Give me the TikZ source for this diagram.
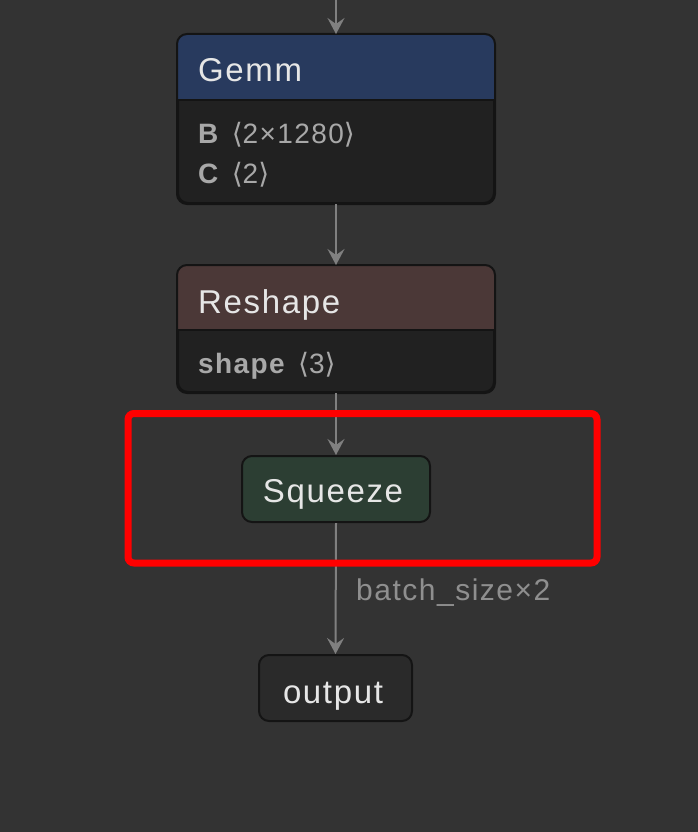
\documentclass[tikz,border=0pt]{standalone}
\usepackage{fontspec}
\setmainfont{Liberation Sans}[LetterSpace=5]
\newfontfamily\djfont{DejaVu Sans}[LetterSpace=5]
\usetikzlibrary{arrows.meta}
\definecolor{bgc}{HTML}{333333}
\definecolor{bodyc}{HTML}{212121}
\definecolor{gemmc}{HTML}{283A5E}
\definecolor{reshc}{HTML}{4B3837}
\definecolor{sqzc}{HTML}{2C3E33}
\definecolor{outc}{HTML}{2A2A2A}
\definecolor{brd}{HTML}{141414}
\definecolor{arrc}{HTML}{808080}
\definecolor{titc}{HTML}{E6E6E6}
\definecolor{attc}{HTML}{A8A8A8}
\definecolor{lblc}{HTML}{8F8F8F}
\newcommand{\lang}{{\djfont ⟨}}
\newcommand{\rang}{{\djfont ⟩}}
\tikzset{
  opbox/.style={draw=brd, line width=2pt, rounded corners=10pt, inner sep=0pt},
  border/.style={draw=brd, line width=2pt, rounded corners=10pt},
  titletext/.style={anchor=base west, inner sep=0pt, text=titc, font=\fontsize{33}{40}\selectfont},
  ctitle/.style={anchor=base, inner sep=0pt, text=titc, font=\fontsize{33}{40}\selectfont},
  atttext/.style={anchor=base west, inner sep=0pt, text=attc, font=\fontsize{28}{34}\selectfont},
  lbltext/.style={anchor=base west, inner sep=0pt, text=lblc, font=\fontsize{30}{34}\selectfont},
  arr/.style={draw=arrc, line width=2pt, -{Stealth[length=16pt, width=17pt, inset=6pt]}},
  hl/.style={draw=red, line width=7pt, rounded corners=6pt, inner sep=0pt}
}
\begin{document}
\begin{tikzpicture}[x=1pt, y=-1pt]
\fill[bgc] (0,0) rectangle (698,832);
\useasboundingbox (0,0) rectangle (698,832);
% Gemm
\node[opbox, fill=bodyc, minimum width=316pt, minimum height=168pt] (gemm) at (336,119) {};
\begin{scope}
\clip[rounded corners=10pt] (gemm.south west) rectangle (gemm.north east);
\fill[gemmc] (gemm.north west) rectangle ([yshift=-66pt]gemm.north east);
\draw[brd, line width=2pt] ([yshift=-66pt]gemm.north west) -- ([yshift=-66pt]gemm.north east);
\end{scope}
\draw[border] (gemm.south west) rectangle (gemm.north east);
\node[titletext] (gemmt) at (198,82) {Gemm};
\node[atttext] (gemmb) at (198,143) {\textbf{B}\hspace{12pt}\lang2×1280\rang};
\node[atttext] (gemmc) at (198,183) {\textbf{C}\hspace{12pt}\lang2\rang};
% Reshape
\node[opbox, fill=bodyc, minimum width=316pt, minimum height=126pt] (resh) at (336,329) {};
\begin{scope}
\clip[rounded corners=10pt] (resh.south west) rectangle (resh.north east);
\fill[reshc] (resh.north west) rectangle ([yshift=-65pt]resh.north east);
\draw[brd, line width=2pt] ([yshift=-65pt]resh.north west) -- ([yshift=-65pt]resh.north east);
\end{scope}
\draw[border] (resh.south west) rectangle (resh.north east);
\node[titletext] (resht) at (198,313) {Reshape};
\node[atttext] (reshs) at (198,373) {\textbf{shape}\hspace{12pt}\lang3\rang};
% Squeeze
\node[opbox, fill=sqzc, minimum width=188pt, minimum height=66pt] (sqz) at (336,489) {};
\node[ctitle] (sqzt) at (333,502) {Squeeze};
% output
\node[opbox, fill=outc, minimum width=153pt, minimum height=66pt] (out) at (335.5,688) {};
\node[ctitle] (outt) at (333,703) {output};
% edges
\coordinate (top) at (336,0);
\draw[arr] (top) -- (gemm.north);
\draw[arr] (gemm.south) -- (resh.north);
\draw[arr] (resh.south) -- (sqz.north);
\draw[arr] (sqz.south) -- (out.north);
\node[lbltext] (lbl) at (356,600) {batch\_size×2};
% highlight
\node[hl, minimum width=469pt, minimum height=149.5pt] (hlbox) at (362.5,488.25) {};
\end{tikzpicture}
\end{document}
